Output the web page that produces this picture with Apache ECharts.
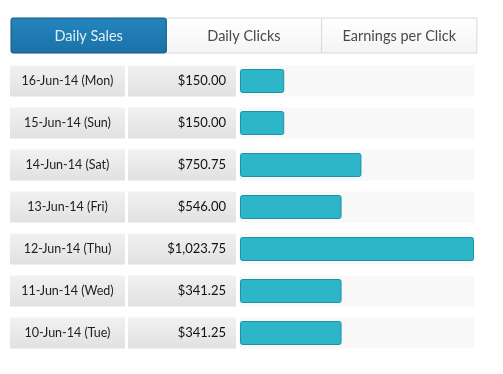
<!DOCTYPE html>
<html>
<head>
<meta charset="utf-8">
<script src="https://cdn.jsdelivr.net/npm/echarts@6/dist/echarts.min.js"></script>
<style>
html,body{margin:0;padding:0;background:#fff;}
#chart{width:503px;height:374px;}
</style>
</head>
<body>
<div id="chart"></div>
<script>
// ---- data ----
var dates = ['16-Jun-14 (Mon)', '15-Jun-14 (Sun)', '14-Jun-14 (Sat)', '13-Jun-14 (Fri)', '12-Jun-14 (Thu)', '11-Jun-14 (Wed)', '10-Jun-14 (Tue)'];
var sales = [150.00, 150.00, 750.75, 546.00, 1023.75, 341.25, 341.25];
// bar lengths as drawn in the picture, in percent of the track
var barPercent = [18.9, 18.9, 51.9, 43.4, 100, 43.4, 43.4];
var trackPercent = [100, 100, 100, 100, 100, 100, 100];
var tabs = ['Daily Sales', 'Daily Clicks', 'Earnings per Click'];

function fmt(v) {
  var parts = v.toFixed(2).split('.');
  parts[0] = parts[0].replace(/\B(?=(\d{3})+(?!\d))/g, ',');
  return '$' + parts.join('.');
}
var salesLabels = sales.map(fmt);

var FONT = 'Lato';
var cellBg = {type: 'linear', x: 0, y: 0, x2: 0, y2: 1,
  colorStops: [{offset: 0, color: '#f1f1f1'}, {offset: 1, color: '#e1e1e1'}]};

var chart = echarts.init(document.getElementById('chart'), null, {renderer: 'canvas'});

// tabs (UI decoration)
var tabX = 11, tabW = 155.3, tabY = 18, tabH = 35;
var tabEls = tabs.map(function (t, i) {
  var active = i === 0;
  return {
    type: 'group',
    children: [{
      type: 'rect',
      shape: {x: tabX + i * tabW, y: tabY, width: tabW, height: tabH, r: active ? 2 : 0},
      style: active ? {
        fill: {type: 'linear', x: 0, y: 0, x2: 0, y2: 1, colorStops: [{offset: 0, color: '#2584bd'}, {offset: 1, color: '#1b72a9'}]},
        stroke: '#14557f', lineWidth: 1
      } : {
        fill: {type: 'linear', x: 0, y: 0, x2: 0, y2: 1, colorStops: [{offset: 0, color: '#ffffff'}, {offset: 1, color: '#f4f4f4'}]},
        stroke: '#d9d9d9', lineWidth: 1
      },
      z: active ? 11 : 10
    }, {
      type: 'text',
      x: tabX + i * tabW + tabW / 2,
      y: tabY + tabH / 2 + 1,
      style: {
        text: t, fill: active ? '#dfeef8' : '#4a4a4a',
        font: '14.5px ' + FONT, align: 'center', verticalAlign: 'middle'
      },
      z: 12
    }]
  };
});

chart.setOption({
  animation: false,
  grid: {left: 240, right: 29, top: 60, height: 294, containLabel: false},
  xAxis: {
    type: 'value', min: 0, max: 100,
    show: false
  },
  yAxis: [{
    type: 'category', data: dates, inverse: true, position: 'left', offset: 111,
    axisLine: {show: false}, axisTick: {show: false}, splitLine: {show: false},
    axisLabel: {
      margin: 4,
      formatter: function (v) { return '{c|' + v + '}'; },
      rich: {c: {width: 115, height: 31, lineHeight: 31, align: 'center', backgroundColor: cellBg,
        color: '#1e1e1e', fontFamily: FONT, fontSize: 12.5}}
    }
  }, {
    type: 'category', data: salesLabels, inverse: true, position: 'left', offset: 0,
    axisLine: {show: false}, axisTick: {show: false}, splitLine: {show: false},
    axisLabel: {
      margin: 4,
      formatter: function (v) { return '{v|' + v + '}'; },
      rich: {v: {width: 98, height: 31, lineHeight: 31, align: 'right', padding: [0, 10, 0, 0], backgroundColor: cellBg,
        color: '#111', fontFamily: FONT, fontSize: 13}}
    }
  }],
  series: [{
    type: 'bar', yAxisIndex: 0, data: trackPercent, barWidth: 31, silent: true, z: 1,
    itemStyle: {color: '#f8f8f8'}
  }, {
    type: 'bar', yAxisIndex: 1, data: barPercent, barWidth: 24, z: 2,
    itemStyle: {color: '#2db5c8', borderColor: '#1c93a8', borderWidth: 1, borderRadius: 2}
  }],
  graphic: tabEls
});
</script>
</body>
</html>
